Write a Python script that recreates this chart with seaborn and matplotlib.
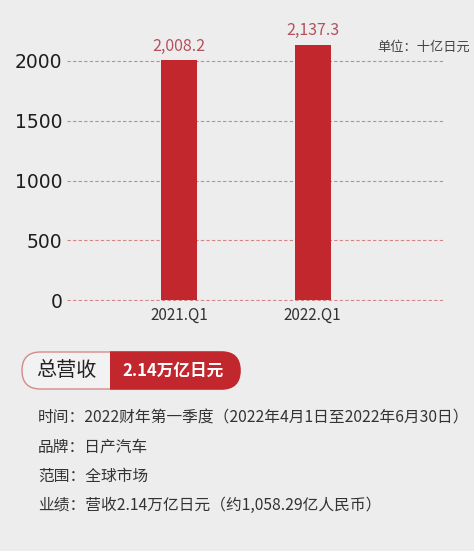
import matplotlib
matplotlib.use("Agg")
import matplotlib.pyplot as plt
import seaborn as sns
import pandas as pd
from matplotlib.patches import FancyBboxPatch, Rectangle

# ---- data ----
quarters = ["2021.Q1", "2022.Q1"]
revenue = [2008.2, 2137.3]
y_ticks = [0, 500, 1000, 1500, 2000]
unit_label = "单位：十亿日元"
pill_left = "总营收"
pill_right = "2.14万亿日元"
info_lines = [
    "时间：2022财年第一季度（2022年4月1日至2022年6月30日）",
    "品牌：日产汽车",
    "范围：全球市场",
    "业绩：营收2.14万亿日元（约1,058.29亿人民币）",
]

sns.set_theme(style="white")
plt.rcParams["font.family"] = ["Noto Sans CJK SC", "DejaVu Sans"]

BG = "#ededed"
RED = "#c1272d"
W, H = 474, 551
fig = plt.figure(figsize=(W / 100, H / 100), dpi=100, facecolor=BG)

# chart axes, placed in pixel terms
px_per_unit = 239 / 2000
ytop = 2300
ybot = -10
ax_left, ax_right, zero_px = 67, 444, 300
ax_bottom_px = zero_px - ybot * px_per_unit
ax_h = (ytop - ybot) * px_per_unit
ax = fig.add_axes([ax_left / W, (H - ax_bottom_px) / H, (ax_right - ax_left) / W, ax_h / H])
ax.set_facecolor(BG)

df = pd.DataFrame({"quarter": quarters, "revenue": revenue})
sns.barplot(data=df, x="quarter", y="revenue", color=RED, width=0.27, saturation=1,
            edgecolor=RED, linewidth=0, ax=ax, zorder=3)
ax.set_xlim(-0.84, 1.985)
ax.set_ylim(ybot, ytop)
ax.set_yticks(y_ticks)
ax.set_yticklabels([str(t) for t in y_ticks], fontsize=13.5, color="#1e1e1e", family="DejaVu Sans")
ax.set_xlabel("")
ax.set_ylabel("")
ax.tick_params(axis="x", length=0, pad=4, labelsize=11, labelcolor="#333333")
ax.tick_params(axis="y", length=0, pad=3.5)
for s in ax.spines.values():
    s.set_visible(False)
ax.yaxis.grid(True, linestyle=(0, (3, 2)), color="#d48484", linewidth=0.8, zorder=0)
ax.set_axisbelow(True)

for i, v in enumerate(revenue):
    ax.annotate(f"{v:,.1f}", (i, v), xytext=(0, 4), textcoords="offset points",
                ha="center", va="bottom", fontsize=11.5, color="#b5505e")

# overlay in pixel coordinates
ov = fig.add_axes([0, 0, 1, 1], facecolor="none")
ov.set_xlim(0, W)
ov.set_ylim(H, 0)
ov.axis("off")

ov.text(470, 47, unit_label, ha="right", va="center", fontsize=9.5, color="#444444")

# pill
x0, x1, y0, y1 = 22, 240, 352, 389
r = (y1 - y0) / 2
outline = FancyBboxPatch((x0, y0), x1 - x0, y1 - y0,
                         boxstyle=f"round,pad=0,rounding_size={r}",
                         facecolor="#f2f2f2", edgecolor="#d58a8a", linewidth=1.0)
ov.add_patch(outline)
redpill = FancyBboxPatch((x0, y0), x1 - x0, y1 - y0,
                         boxstyle=f"round,pad=0,rounding_size={r}",
                         facecolor=RED, edgecolor=RED, linewidth=1.0)
ov.add_patch(redpill)
clip = Rectangle((110, y0 - 2), x1 - 110 + 3, y1 - y0 + 4, transform=ov.transData)
redpill.set_clip_path(clip)

ov.text(66, 371, pill_left, ha="center", va="center", fontsize=14.5, color="#222222")
ov.text(173, 371, pill_right, ha="center", va="center", fontsize=12, color="white", fontweight="bold")

for k, line in enumerate(info_lines):
    ov.text(38, 418 + 29 * k, line, ha="left", va="center", fontsize=11.3, color="#333333")

fig.savefig("out.png", dpi=100, facecolor=BG)
